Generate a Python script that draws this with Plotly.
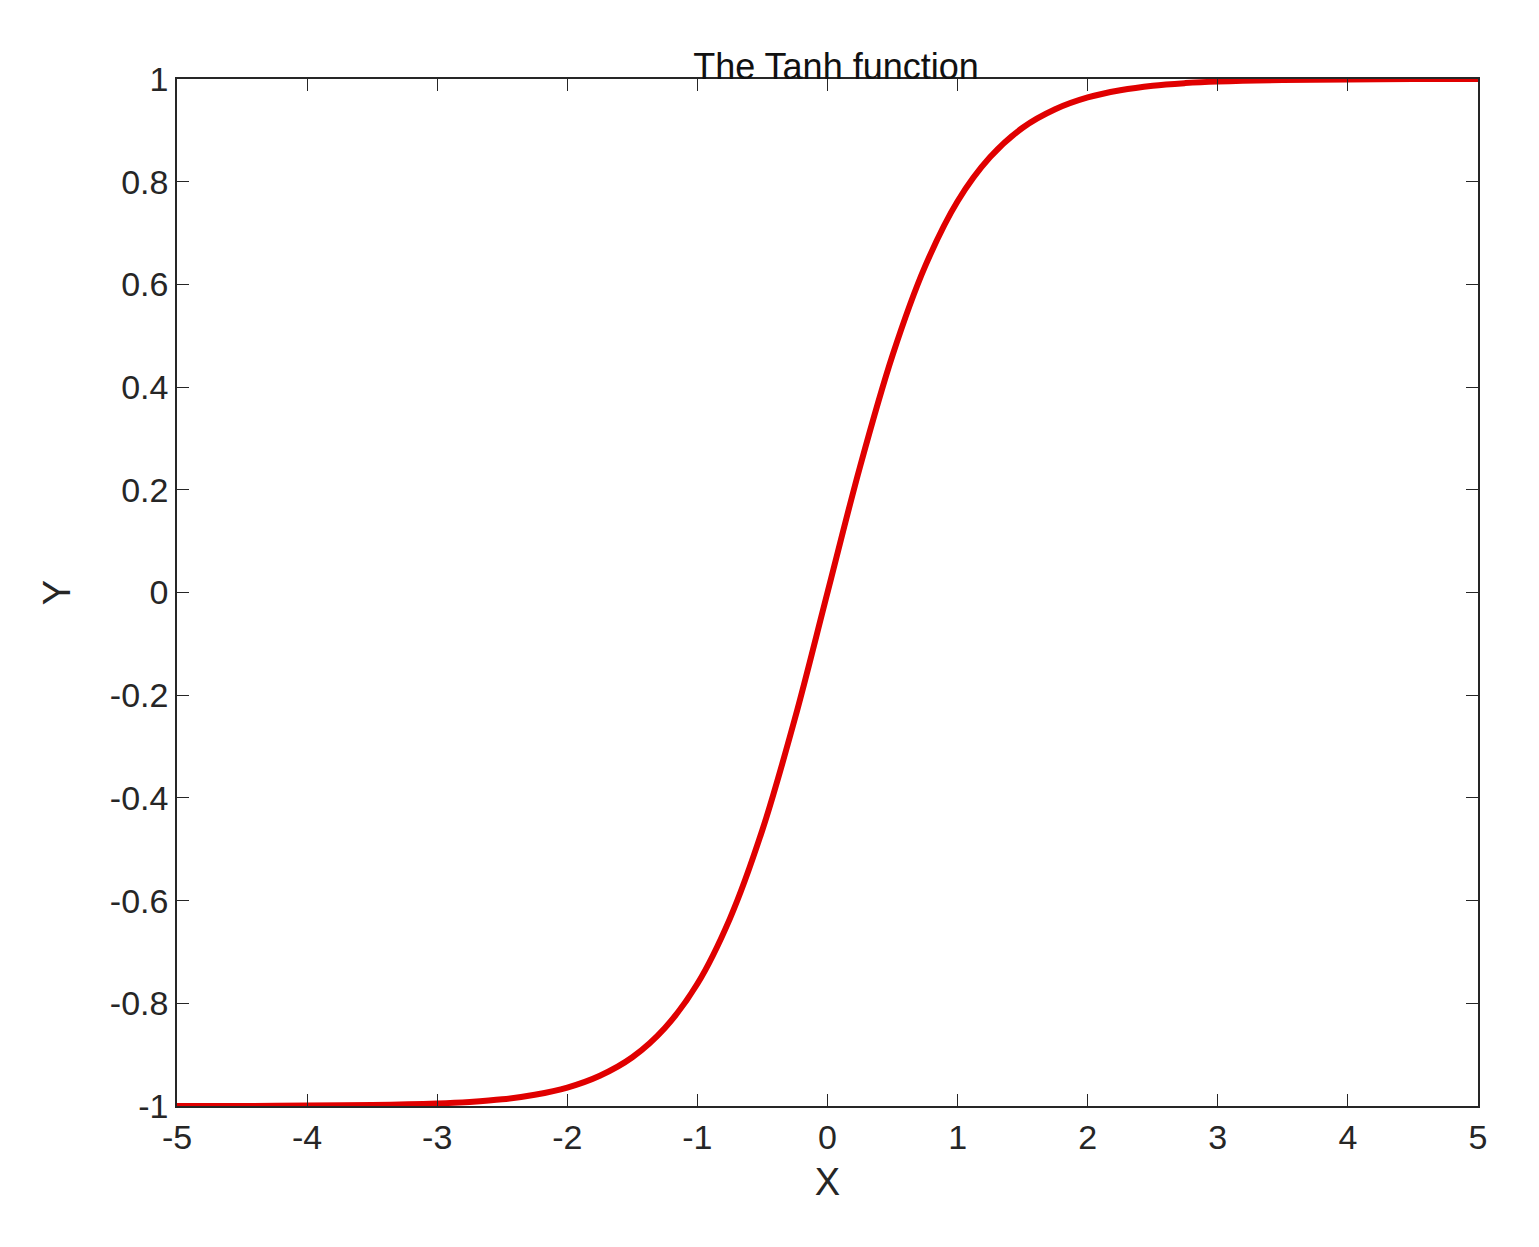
import plotly.graph_objects as go

# values
x_vals = [-5, -4.5, -4, -3.5, -3, -2.75, -2.5, -2.25, -2, -1.75, -1.5, -1.25, -1, -0.75, -0.5, -0.25,
          0, 0.25, 0.5, 0.75, 1, 1.25, 1.5, 1.75, 2, 2.25, 2.5, 2.75, 3, 3.5, 4, 4.5, 5]
y_vals = [-1.0, -1.0, -0.999, -0.998, -0.995, -0.992, -0.987, -0.978, -0.964, -0.941, -0.905, -0.848,
          -0.762, -0.635, -0.462, -0.245, 0.0, 0.245, 0.462, 0.635, 0.762, 0.848, 0.905, 0.941, 0.964,
          0.978, 0.987, 0.992, 0.995, 0.998, 0.999, 1.0, 1.0]
x_ticks = [-5, -4, -3, -2, -1, 0, 1, 2, 3, 4, 5]
y_ticks = [-1, -0.8, -0.6, -0.4, -0.2, 0, 0.2, 0.4, 0.6, 0.8, 1]

txt = "#262626"
fig = go.Figure(go.Scatter(x=x_vals, y=y_vals, mode="lines",
                           line=dict(color="#e00000", width=6, shape="spline")))

axis = dict(showgrid=False, zeroline=False, showline=True, linecolor=txt, linewidth=1.5,
            mirror="ticks", ticks="inside", ticklen=12, tickcolor=txt,
            tickfont=dict(size=34, color=txt))
fig.update_xaxes(axis, range=[-5, 5], tickvals=x_ticks,
                 ticktext=[f"{v:g}" for v in x_ticks],
                 title=dict(text="X", font=dict(size=38, color=txt), standoff=14))
fig.update_yaxes(axis, range=[-1, 1], tickvals=y_ticks,
                 ticktext=[f"{v:g}" for v in y_ticks],
                 title=dict(text="Y", font=dict(size=38, color=txt), standoff=28))
fig.update_layout(
    width=1539, height=1247, showlegend=False,
    paper_bgcolor="white", plot_bgcolor="white",
    font=dict(family="Liberation Sans, Arial", color=txt),
    margin=dict(l=169, r=69, t=71, b=149),
    title=dict(text="The Tanh function", x=0.538, xanchor="center", y=0.963,
               font=dict(size=36, color="#111111")),
)
fig.write_html("out.html")
